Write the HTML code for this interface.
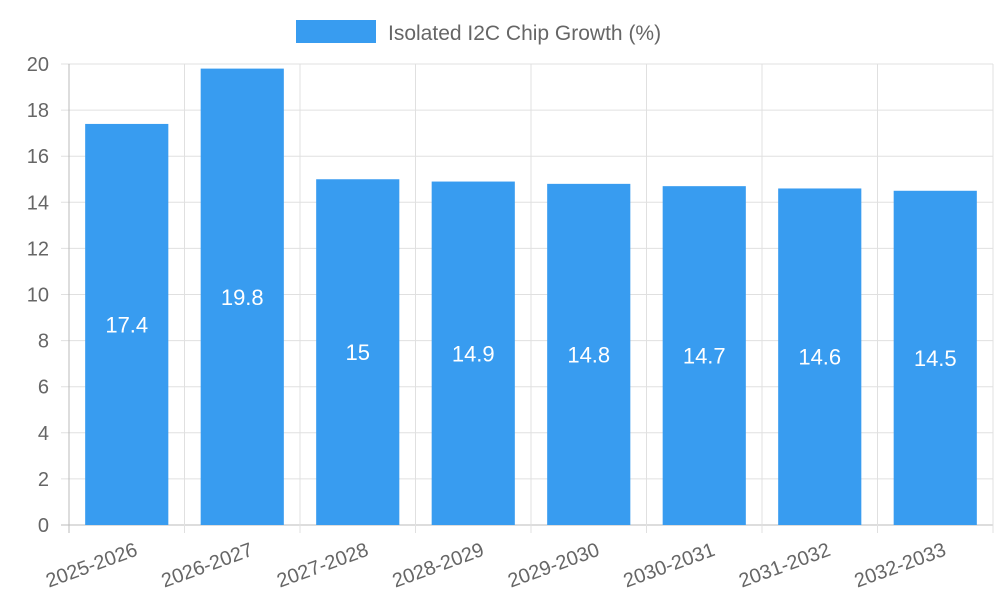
<!DOCTYPE html>
<html><head><meta charset="utf-8"><style>
body{margin:0;background:#fff;}
svg text{font-family:"Liberation Sans",sans-serif;}
</style></head><body>
<svg id="chart" width="1000" height="600" xmlns="http://www.w3.org/2000/svg">
<g>
<rect x="296" y="20" width="80" height="23" fill="#389cf0"/>
<text x="388" y="40" font-size="21" fill="#666">Isolated I2C Chip Growth (%)</text>
</g>
<g id="grid"></g><g id="bars"></g><g id="labels"></g>
</svg>
<script>
const categories=["2025-2026","2026-2027","2027-2028","2028-2029","2029-2030","2030-2031","2031-2032","2032-2033"];
const values=[17.4,19.8,15,14.9,14.8,14.7,14.6,14.5];
const yTicks=[0,2,4,6,8,10,12,14,16,18,20];
const L=69,R=993,T=64,B=525,yMax=20;
const ns="http://www.w3.org/2000/svg";
const y=v=>B-(v/yMax)*(B-T);
const band=(R-L)/categories.length;
const x=i=>L+i*band;
function mk(tag,attrs,parent,txt){const e=document.createElementNS(ns,tag);for(const k in attrs)e.setAttribute(k,attrs[k]);if(txt!==undefined)e.textContent=txt;document.getElementById(parent).appendChild(e);return e;}
yTicks.forEach(t=>{
 const l=mk('line',{x1:L-8,x2:R,y1:y(t),y2:y(t),stroke:t===0?'#bbb':'#e0e0e0','stroke-width':1},'grid');
 
 
 const tx=mk('text',{x:L-20,y:y(t)+7,'text-anchor':'end','font-size':20,fill:'#666'},'grid',t);
 
 
});
for(let i=0;i<=categories.length;i++){
 const l=mk('line',{x1:x(i),x2:x(i),y1:T,y2:B+8,stroke:i===0?'#bbb':'#e0e0e0','stroke-width':1},'grid');
 
 
}
const bw=band*0.72;
categories.forEach((c,i)=>{
 const cx=x(i)+band/2;
 const r=mk('rect',{x:cx-bw/2,y:y(values[i]),width:bw,height:B-y(values[i]),fill:'#389cf0'},'bars');
 
 
 const v=mk('text',{x:cx,y:(y(values[i])+B)/2+8,'text-anchor':'middle','font-size':22,fill:'#fff'},'labels',values[i]);
 
 
 const t=mk('text',{x:cx+12,y:B+30,'text-anchor':'end','font-size':20,fill:'#666',transform:`rotate(-20 ${cx+12} ${B+30})`},'labels',c);
 
 
});
</script>
</body></html>
